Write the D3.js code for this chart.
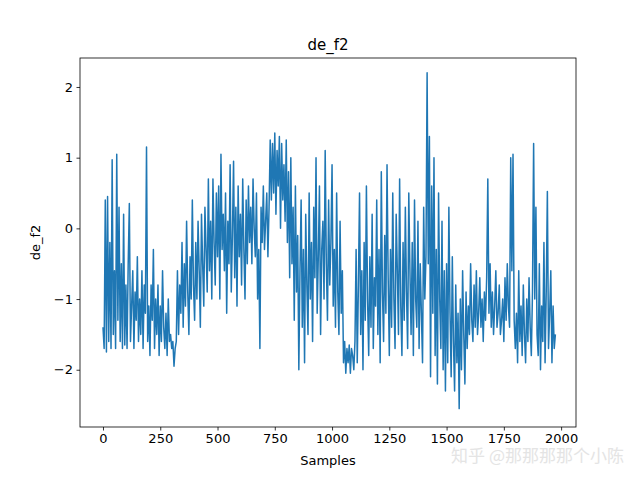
<!DOCTYPE html>
<html>
<head>
<meta charset="utf-8">
<script src="https://cdn.jsdelivr.net/npm/d3@7"></script>
<style>
  body { margin: 0; background: #fff; }
  text { font-family: "DejaVu Sans", sans-serif; }
</style>
</head>
<body>
<div id="chart"></div>
<script>
// values, one every 5 samples
const sampleStep = 5
const values = [
  -1.4,-1.7,0.4,-1.75,0.45,-1.6,-0.2,-1.7,0.97,-1.5,-0.6,-1.7,1.05,-1.3,0.3,-1.6,-0.5,-1.7,0.2,-1.65,
  -0.8,-1.7,-0.5,0.35,-1.6,-1.1,-0.6,-1.7,-0.9,-1.3,-0.4,-1.6,-1.0,-1.5,-0.6,-1.7,-0.8,-1.2,1.15,-1.6,
  -1.1,-1.8,-0.8,-1.3,-0.3,-1.7,-1.0,-1.5,-0.8,-1.8,-1.1,-1.6,-0.6,-1.4,-1.7,-1.2,-1.8,-1.0,-1.6,-1.5,
  -1.7,-1.6,-1.95,-1.7,-1.6,-0.6,-1.5,-0.8,-1.2,-0.2,-1.4,-0.5,-1.1,0.1,-0.9,-1.5,-0.4,-1.0,0.4,-0.8,
  -1.3,-0.2,-1.0,0.1,-0.6,-1.4,0.2,-0.5,-1.1,0.3,-0.3,-0.9,0.7,-0.6,0.1,-1.0,0.7,-0.2,-0.8,0.5,
  -0.4,0.6,-1.0,1.05,-0.3,0.2,-0.6,0.5,-1.2,0.1,-0.5,0.9,-0.9,-0.1,0.95,-0.7,0.3,-1.1,0.6,-0.4,
  0.2,-0.8,0.7,-0.3,-1.0,0.4,-0.5,0.6,-0.2,0.3,-0.5,0.7,0.0,-0.4,0.5,-1.0,-0.3,-1.7,0.3,-0.2,
  0.6,-0.3,0.1,0.5,-0.4,0.3,1.25,0.4,1.2,0.5,1.35,0.2,1.1,0.6,1.3,0.0,1.2,0.4,0.9,0.1,
  1.25,-0.2,0.8,-0.7,1.0,-0.5,0.3,-1.3,0.6,-0.9,-0.1,-2.0,-0.6,0.4,-1.4,-0.3,-1.9,0.2,-0.8,-1.5,
  0.5,-1.0,-0.2,-1.6,0.3,-0.7,1.0,-1.2,-0.4,0.6,-1.5,-0.3,0.1,-1.0,1.1,-0.5,-1.3,0.4,-0.8,-0.2,
  0.9,-1.1,-0.3,-1.4,0.5,-0.9,-1.5,0.1,-1.2,-0.6,-1.9,-1.6,-2.05,-1.7,-1.9,-1.65,-2.05,-1.7,-1.8,-2.0,
  -1.6,-0.3,-1.9,-0.8,0.5,-1.5,-0.6,-2.0,-0.2,-1.3,0.6,-1.0,-1.8,-0.4,-1.4,0.2,-1.7,-0.7,-1.1,0.4,
  -1.5,-0.3,-1.9,0.8,-0.9,-1.6,-0.1,-1.2,0.9,-0.7,-1.8,-0.3,-1.4,0.5,-1.0,-1.7,0.2,-0.6,-1.5,0.7,
  -1.1,-1.8,-0.2,-1.3,0.3,-0.9,-1.7,0.5,-0.6,-1.5,-0.2,-1.8,0.4,-1.0,-1.4,0.1,-1.7,-0.5,-1.2,-1.9,
  0.3,-1.0,-0.4,2.2,-0.5,1.3,-2.1,0.6,-1.2,1.0,-1.8,-0.3,-2.2,0.5,-1.0,-1.7,0.1,-2.0,-0.6,-2.3,
  -0.5,-1.9,0.3,-1.2,-2.1,-0.4,-1.6,-2.3,-0.8,-1.9,-1.2,-2.55,-1.0,-2.0,-0.6,-1.5,-2.2,-0.9,-1.7,-1.1,
  -1.5,-0.5,-1.3,-1.6,-0.8,-1.4,-0.6,-1.5,-1.2,-0.7,-1.4,-1.0,-1.6,-0.9,-1.3,-0.7,0.7,-1.2,-0.5,-1.4,
  -0.9,-1.5,-1.1,-0.6,-1.4,-1.2,-0.8,-1.5,-1.3,-1.0,-1.6,-0.7,-1.3,-0.5,-1.1,-1.4,1.0,-0.6,1.05,-1.3,
  -1.7,-1.2,-1.9,-0.6,-1.6,-1.1,-1.8,-0.8,-1.5,-1.9,-1.0,-1.6,-0.7,-1.4,-1.8,-0.9,1.2,-1.0,0.3,-1.5,
  -1.8,-0.5,-2.0,-1.1,-1.6,-0.2,-1.9,-0.9,0.52,-1.7,-1.2,-0.6,-1.9,-1.1,-1.7,-1.5
]
const xTicks = [0, 250, 500, 750, 1000, 1250, 1500, 1750, 2000]
const yTicks = [-2, -1, 0, 1, 2]
const title = "de_f2"
const xLabel = "Samples"
const yLabel = "de_f2"
const watermark = "知乎 @那那那那个小陈"

const width = 640, height = 480
const margin = {top: 58, right: 64, bottom: 53, left: 80}
const w = width - margin.left - margin.right
const h = height - margin.top - margin.bottom

const svg = d3.select('#chart').append('svg')
  .attr('width', width).attr('height', height)

const x = d3.scaleLinear().domain([-100.4, 2065]).range([0, w])
const y = d3.scaleLinear().domain([-2.81, 2.41]).range([h, 0])

const g = svg.append('g').attr('transform', `translate(${margin.left},${margin.top})`)

const line = d3.line()
  .x((d, i) => x(i * sampleStep))
  .y(d => y(d))

g.append('path').datum(values)
  .attr('fill', 'none')
  .attr('stroke', '#1f77b4')
  .attr('stroke-width', 1.5)
  .attr('stroke-linejoin', 'round')
  .attr('d', line)

const xAxis = g.append('g').attr('transform', `translate(0,${h})`)
  .call(d3.axisBottom(x).tickValues(xTicks).tickSize(3.5).tickPadding(3.5).tickFormat(d3.format('d')))
const yAxis = g.append('g')
  .call(d3.axisLeft(y).tickValues(yTicks).tickSize(3.5).tickPadding(3.5).tickFormat(d3.format('d')))
;[xAxis, yAxis].forEach(a => {
  a.select('.domain').remove()
  a.selectAll('text').attr('font-size', 13).attr('fill', '#000')
    .style('font-family', '"DejaVu Sans", sans-serif')
  a.selectAll('line').attr('stroke', '#000').attr('stroke-width', 0.8)
})
yAxis.selectAll('text').text(d => d < 0 ? '\u2212' + Math.abs(d) : d)

g.append('rect').attr('width', w).attr('height', h)
  .attr('fill', 'none').attr('stroke', '#000').attr('stroke-width', 0.8)

svg.append('text').attr('x', margin.left + w / 2).attr('y', margin.top - 8)
  .attr('text-anchor', 'middle').attr('font-size', 15).text(title)
svg.append('text').attr('x', margin.left + w / 2).attr('y', height - 15)
  .attr('text-anchor', 'middle').attr('font-size', 13).text(xLabel)
svg.append('text')
  .attr('transform', `translate(40,${margin.top + h / 2}) rotate(-90)`)
  .attr('text-anchor', 'middle').attr('font-size', 13).text(yLabel)

svg.append('text').attr('x', 624).attr('y', 462)
  .attr('text-anchor', 'end').attr('font-size', 17)
  .attr('fill', '#e4e4e4')
  .style('font-family', '"Noto Sans CJK SC", sans-serif')
  .text(watermark)
</script>
</body>
</html>
